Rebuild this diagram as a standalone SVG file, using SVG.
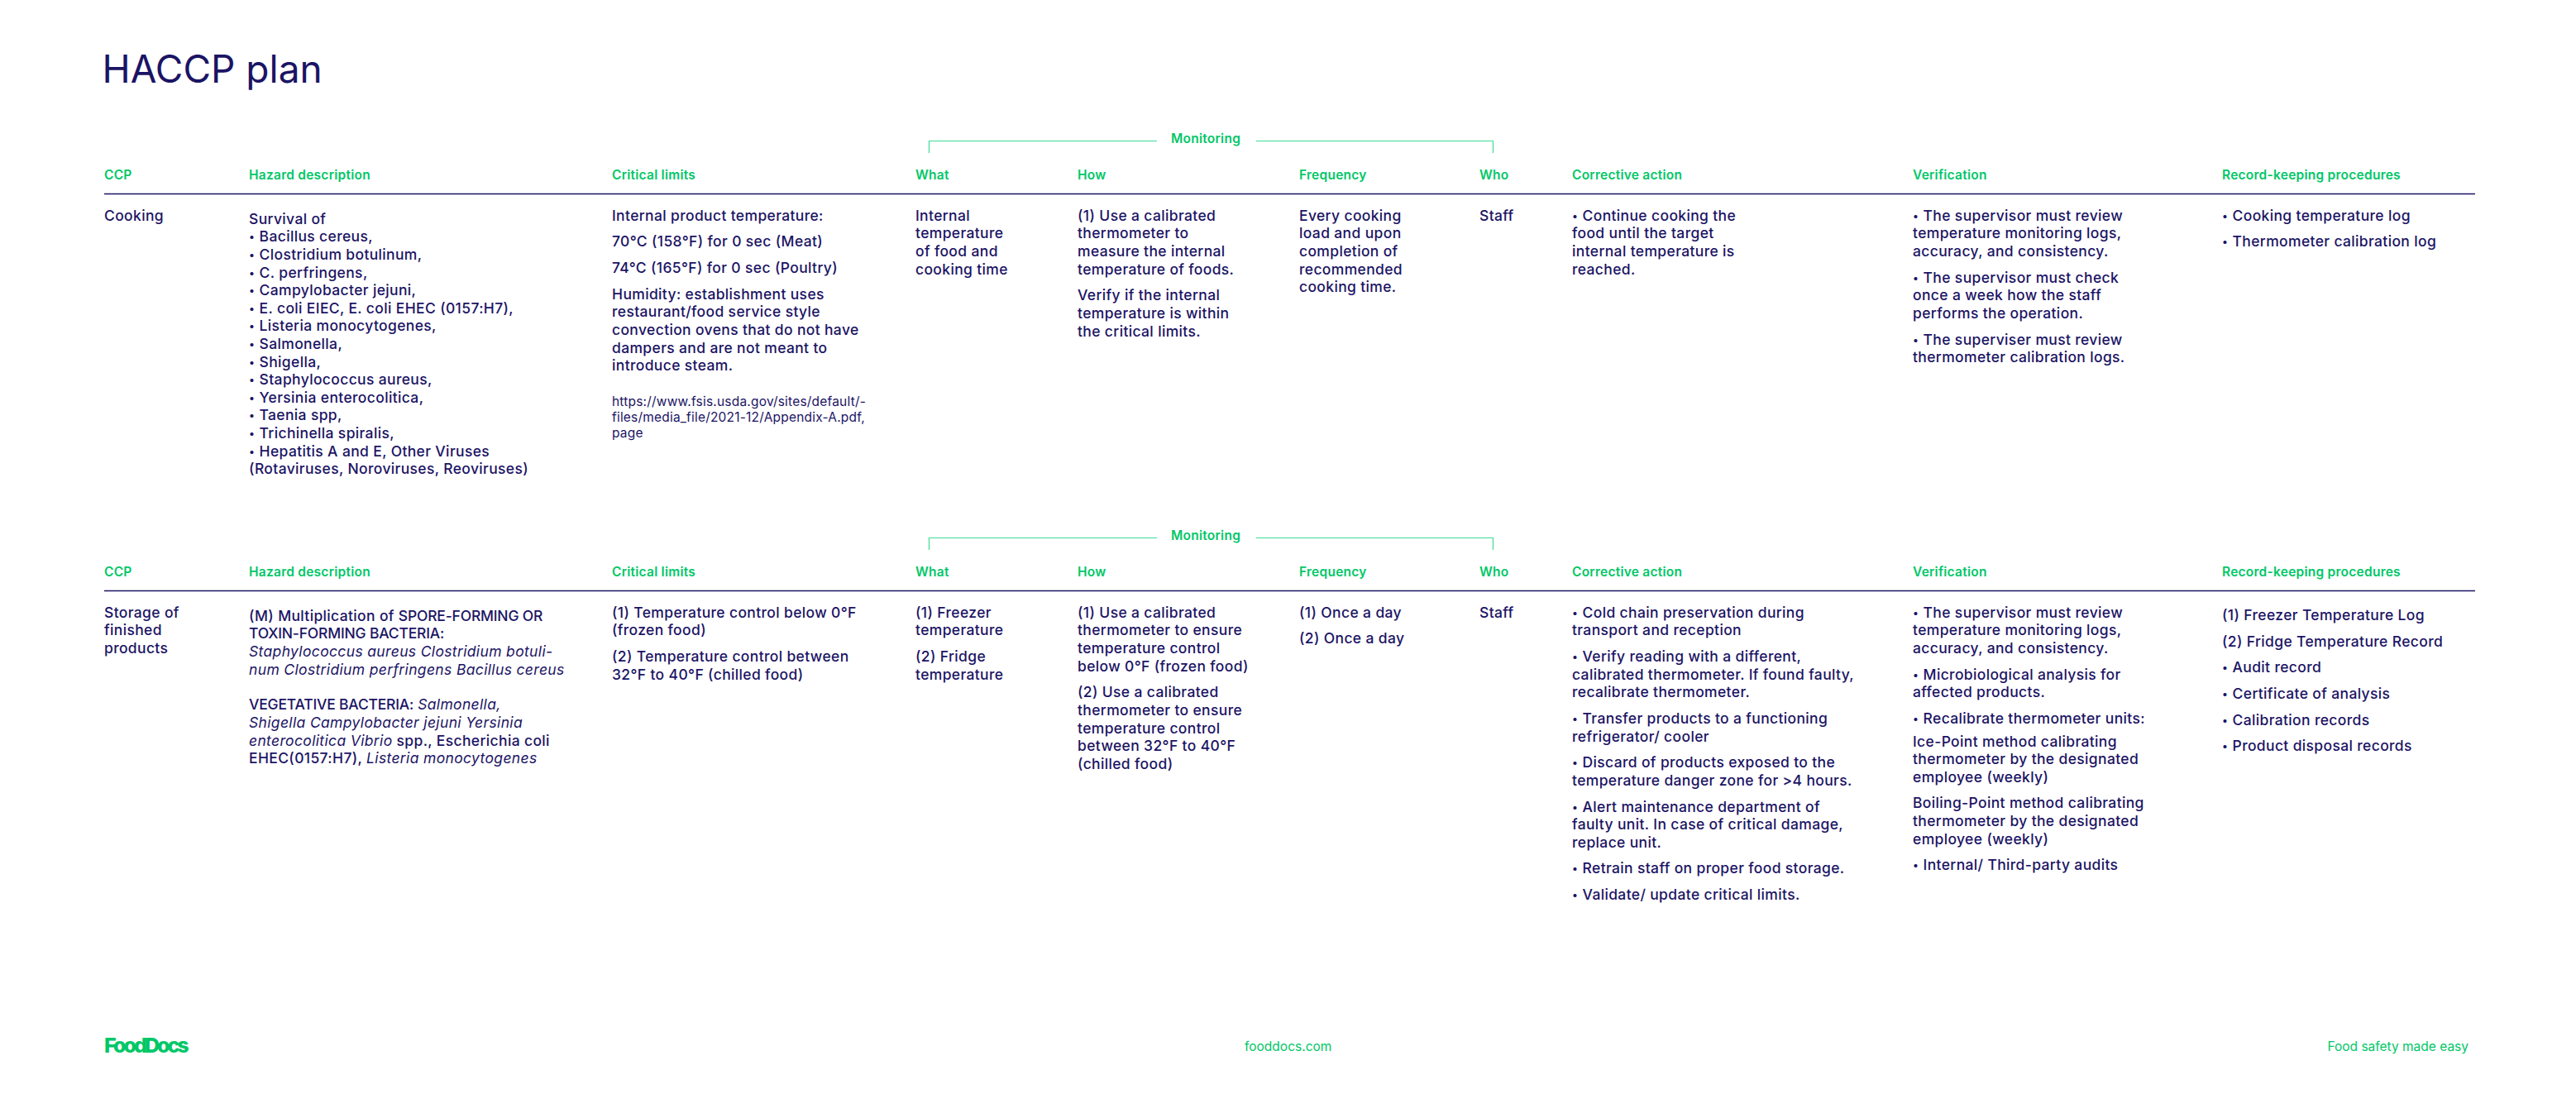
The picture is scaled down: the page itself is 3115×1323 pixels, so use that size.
<svg xmlns="http://www.w3.org/2000/svg" width="3115" height="1323" viewBox="0 0 3115 1323">
<style>
text{font-family:Inter,"Liberation Sans",sans-serif;font-weight:500;font-size:17.5px;letter-spacing:.35px;fill:#1b1464}
.h{font-size:15.5px;letter-spacing:.25px;font-weight:600;fill:#00c767}
.u{font-size:15.5px;letter-spacing:.2px;font-weight:400}
.i{font-style:italic;font-weight:400}
.b{font-size:13px;letter-spacing:.6px;baseline-shift:1.5px}
.c{letter-spacing:-.2px}
.f{font-size:15.5px;letter-spacing:0;font-weight:400;fill:#00c767}
.rule{stroke:#1b1464;stroke-width:1.3;fill:none}
.br{stroke:#3ddc97;stroke-width:1.2;fill:none}
</style>
<rect width="3115" height="1323" fill="#fff"/>
<text id="title" x="123.5" y="99.5" style="font-size:46px;font-weight:400;letter-spacing:0">HACCP plan</text>
<g id="connectors">
<path class="br" d="M1123.5 185V170.5H1399M1519 170.5H1805.5V185"/>
<path class="br" d="M1123.5 665V650.5H1399M1519 650.5H1805.5V665"/>
<path class="rule" d="M126 234.5H2993"/>
<path class="rule" d="M126 714.5H2993"/>
</g>
<g id="header-1">
<text class="h" x="1416" y="173">Monitoring</text>
<text class="h" x="126" y="216.7">CCP</text>
<text class="h" x="301" y="216.7">Hazard description</text>
<text class="h" x="740" y="216.7">Critical limits</text>
<text class="h" x="1107" y="216.7">What</text>
<text class="h" x="1303" y="216.7">How</text>
<text class="h" x="1571" y="216.7">Frequency</text>
<text class="h" x="1789" y="216.7">Who</text>
<text class="h" x="1901" y="216.7">Corrective action</text>
<text class="h" x="2313" y="216.7">Verification</text>
<text class="h" x="2687" y="216.7">Record-keeping procedures</text>
</g>
<g id="row-1-ccp"><text x="126" y="266.7">Cooking</text></g>
<g id="row-1-hazard">
<text x="301" y="270.7">Survival of</text>
<text x="301" y="292.3"><tspan class="b">•</tspan> Bacillus cereus,</text>
<text x="301" y="313.9"><tspan class="b">•</tspan> Clostridium botulinum,</text>
<text x="301" y="335.5"><tspan class="b">•</tspan> C. perfringens,</text>
<text x="301" y="357.1"><tspan class="b">•</tspan> Campylobacter jejuni,</text>
<text x="301" y="378.7"><tspan class="b">•</tspan> E. coli EIEC, E. coli EHEC (0157:H7),</text>
<text x="301" y="400.3"><tspan class="b">•</tspan> Listeria monocytogenes,</text>
<text x="301" y="421.9"><tspan class="b">•</tspan> Salmonella,</text>
<text x="301" y="443.5"><tspan class="b">•</tspan> Shigella,</text>
<text x="301" y="465.1"><tspan class="b">•</tspan> Staphylococcus aureus,</text>
<text x="301" y="486.7"><tspan class="b">•</tspan> Yersinia enterocolitica,</text>
<text x="301" y="508.3"><tspan class="b">•</tspan> Taenia spp,</text>
<text x="301" y="529.9"><tspan class="b">•</tspan> Trichinella spiralis,</text>
<text x="301" y="551.5"><tspan class="b">•</tspan> Hepatitis A and E, Other Viruses</text>
<text x="301" y="573.1">(Rotaviruses, Noroviruses, Reoviruses)</text>
</g>
<g id="row-1-limits">
<text x="740" y="266.7">Internal product temperature:</text>
<text x="740" y="298.3">70°C (158°F) for 0 sec (Meat)</text>
<text x="740" y="330">74°C (165°F) for 0 sec (Poultry)</text>
<text x="740" y="361.7">Humidity: establishment uses</text>
<text x="740" y="383.3">restaurant/food service style</text>
<text x="740" y="404.9">convection ovens that do not have</text>
<text x="740" y="426.5">dampers and are not meant to</text>
<text x="740" y="448.1">introduce steam.</text>
<text class="u" x="740" y="490.7">https://www.fsis.usda.gov/sites/default/-</text>
<text class="u" x="740" y="510">files/media_file/2021-12/Appendix-A.pdf,</text>
<text class="u" x="740" y="529.3">page</text>
</g>
<g id="row-1-what">
<text x="1107" y="266.7">Internal</text>
<text x="1107" y="288.3">temperature</text>
<text x="1107" y="309.9">of food and</text>
<text x="1107" y="331.5">cooking time</text>
</g>
<g id="row-1-how">
<text x="1303" y="266.7">(1) Use a calibrated</text>
<text x="1303" y="288.3">thermometer to</text>
<text x="1303" y="309.9">measure the internal</text>
<text x="1303" y="331.5">temperature of foods.</text>
<text x="1303" y="363.3">Verify if the internal</text>
<text x="1303" y="384.9">temperature is within</text>
<text x="1303" y="406.5">the critical limits.</text>
</g>
<g id="row-1-frequency">
<text x="1571" y="266.7">Every cooking</text>
<text x="1571" y="288.3">load and upon</text>
<text x="1571" y="309.9">completion of</text>
<text x="1571" y="331.5">recommended</text>
<text x="1571" y="353.1">cooking time.</text>
</g>
<g id="row-1-who"><text x="1789" y="266.7">Staff</text></g>
<g id="row-1-corrective">
<text x="1901" y="266.7"><tspan class="b">•</tspan> Continue cooking the</text>
<text x="1901" y="288.3">food until the target</text>
<text x="1901" y="309.9">internal temperature is</text>
<text x="1901" y="331.5">reached.</text>
</g>
<g id="row-1-verification">
<text x="2313" y="266.7"><tspan class="b">•</tspan> The supervisor must review</text>
<text x="2313" y="288.3">temperature monitoring logs,</text>
<text x="2313" y="309.9">accuracy, and consistency.</text>
<text x="2313" y="341.7"><tspan class="b">•</tspan> The supervisor must check</text>
<text x="2313" y="363.3">once a week how the staff</text>
<text x="2313" y="384.9">performs the operation.</text>
<text x="2313" y="416.7"><tspan class="b">•</tspan> The superviser must review</text>
<text x="2313" y="438.3">thermometer calibration logs.</text>
</g>
<g id="row-1-records">
<text x="2687" y="266.7"><tspan class="b">•</tspan> Cooking temperature log</text>
<text x="2687" y="298.3"><tspan class="b">•</tspan> Thermometer calibration log</text>
</g>
<g id="header-2">
<text class="h" x="1416" y="653">Monitoring</text>
<text class="h" x="126" y="696.7">CCP</text>
<text class="h" x="301" y="696.7">Hazard description</text>
<text class="h" x="740" y="696.7">Critical limits</text>
<text class="h" x="1107" y="696.7">What</text>
<text class="h" x="1303" y="696.7">How</text>
<text class="h" x="1571" y="696.7">Frequency</text>
<text class="h" x="1789" y="696.7">Who</text>
<text class="h" x="1901" y="696.7">Corrective action</text>
<text class="h" x="2313" y="696.7">Verification</text>
<text class="h" x="2687" y="696.7">Record-keeping procedures</text>
</g>
<g id="row-2-ccp">
<text x="126" y="746.7">Storage of</text>
<text x="126" y="768.3">finished</text>
<text x="126" y="789.9">products</text>
</g>
<g id="row-2-hazard">
<text x="301" y="750.7">(M) Multiplication of <tspan class="c">SPORE-FORMING OR</tspan></text>
<text x="301" y="772.3" class="c">TOXIN-FORMING BACTERIA:</text>
<text class="i" x="301" y="793.9">Staphylococcus aureus Clostridium botuli-</text>
<text class="i" x="301" y="815.5">num Clostridium perfringens Bacillus cereus</text>
<text x="301" y="858.3"><tspan class="c">VEGETATIVE BACTERIA:</tspan> <tspan class="i">Salmonella,</tspan></text>
<text class="i" x="301" y="879.9">Shigella Campylobacter jejuni Yersinia</text>
<text x="301" y="901.5"><tspan class="i">enterocolitica Vibrio</tspan> spp., Escherichia coli</text>
<text x="301" y="923.1">EHEC(0157:H7), <tspan class="i">Listeria monocytogenes</tspan></text>
</g>
<g id="row-2-limits">
<text x="740" y="746.7">(1) Temperature control below 0°F</text>
<text x="740" y="768.3">(frozen food)</text>
<text x="740" y="800">(2) Temperature control between</text>
<text x="740" y="821.6">32°F to 40°F (chilled food)</text>
</g>
<g id="row-2-what">
<text x="1107" y="746.7">(1) Freezer</text>
<text x="1107" y="768.3">temperature</text>
<text x="1107" y="800">(2) Fridge</text>
<text x="1107" y="821.6">temperature</text>
</g>
<g id="row-2-how">
<text x="1303" y="746.7">(1) Use a calibrated</text>
<text x="1303" y="768.3">thermometer to ensure</text>
<text x="1303" y="789.9">temperature control</text>
<text x="1303" y="811.5">below 0°F (frozen food)</text>
<text x="1303" y="843.3">(2) Use a calibrated</text>
<text x="1303" y="864.9">thermometer to ensure</text>
<text x="1303" y="886.5">temperature control</text>
<text x="1303" y="908.1">between 32°F to 40°F</text>
<text x="1303" y="929.7">(chilled food)</text>
</g>
<g id="row-2-frequency">
<text x="1571" y="746.7">(1) Once a day</text>
<text x="1571" y="778.3">(2) Once a day</text>
</g>
<g id="row-2-who"><text x="1789" y="746.7">Staff</text></g>
<g id="row-2-corrective">
<text x="1901" y="746.7"><tspan class="b">•</tspan> Cold chain preservation during</text>
<text x="1901" y="768.3">transport and reception</text>
<text x="1901" y="800"><tspan class="b">•</tspan> Verify reading with a different,</text>
<text x="1901" y="821.6">calibrated thermometer. If found faulty,</text>
<text x="1901" y="843.2">recalibrate thermometer.</text>
<text x="1901" y="875"><tspan class="b">•</tspan> Transfer products to a functioning</text>
<text x="1901" y="896.6">refrigerator/ cooler</text>
<text x="1901" y="928.3"><tspan class="b">•</tspan> Discard of products exposed to the</text>
<text x="1901" y="949.9">temperature danger zone for &gt;4 hours.</text>
<text x="1901" y="981.7"><tspan class="b">•</tspan> Alert maintenance department of</text>
<text x="1901" y="1003.3">faulty unit. In case of critical damage,</text>
<text x="1901" y="1024.9">replace unit.</text>
<text x="1901" y="1056"><tspan class="b">•</tspan> Retrain staff on proper food storage.</text>
<text x="1901" y="1087.7"><tspan class="b">•</tspan> Validate/ update critical limits.</text>
</g>
<g id="row-2-verification">
<text x="2313" y="746.7"><tspan class="b">•</tspan> The supervisor must review</text>
<text x="2313" y="768.3">temperature monitoring logs,</text>
<text x="2313" y="789.9">accuracy, and consistency.</text>
<text x="2313" y="821.7"><tspan class="b">•</tspan> Microbiological analysis for</text>
<text x="2313" y="843.3">affected products.</text>
<text x="2313" y="875"><tspan class="b">•</tspan> Recalibrate thermometer units:</text>
<text x="2313" y="902.7">Ice-Point method calibrating</text>
<text x="2313" y="924.3">thermometer by the designated</text>
<text x="2313" y="945.9">employee (weekly)</text>
<text x="2313" y="977.3">Boiling-Point method calibrating</text>
<text x="2313" y="998.9">thermometer by the designated</text>
<text x="2313" y="1020.5">employee (weekly)</text>
<text x="2313" y="1051.7"><tspan class="b">•</tspan> Internal/ Third-party audits</text>
</g>
<g id="row-2-records">
<text x="2687" y="750">(1) Freezer Temperature Log</text>
<text x="2687" y="781.7">(2) Fridge Temperature Record</text>
<text x="2687" y="813.3"><tspan class="b">•</tspan> Audit record</text>
<text x="2687" y="845"><tspan class="b">•</tspan> Certificate of analysis</text>
<text x="2687" y="876.7"><tspan class="b">•</tspan> Calibration records</text>
<text x="2687" y="908.3"><tspan class="b">•</tspan> Product disposal records</text>
</g>
<g id="footer">
<text x="126" y="1273" style="font-size:25px;font-weight:800;fill:#00c767;letter-spacing:-3px">FoodDocs</text>
<text class="f" x="1505" y="1271">fooddocs.com</text>
<text class="f" x="2985" y="1271" text-anchor="end">Food safety made easy</text>
</g>
</svg>
